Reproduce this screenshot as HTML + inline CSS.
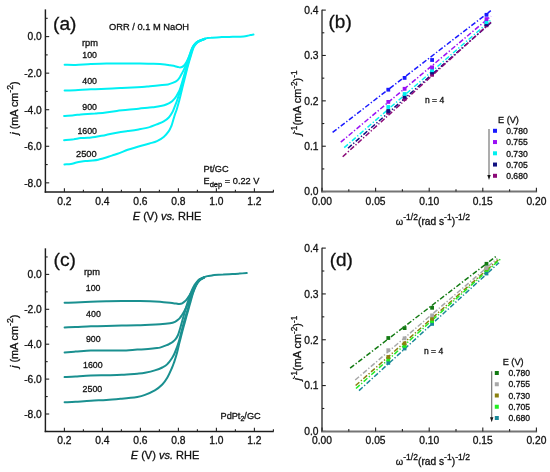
<!DOCTYPE html>
<html><head><meta charset="utf-8"><style>
html,body{margin:0;padding:0;background:#fff;}
svg{display:block;will-change:transform;}
text{font-family:"Liberation Sans",sans-serif;stroke:#111;stroke-width:0.3px;}
</style></head><body>
<svg width="550" height="472" viewBox="0 0 550 472">
<rect width="550" height="472" fill="#fff"/>
<text transform="translate(53.0,30.0) scale(1,0.93)" font-size="19.2" fill="#111">(a)</text>
<line x1="45.4" y1="9.379999999999999" x2="45.4" y2="192.67999999999998" stroke="#1e1e1e" stroke-width="1.45"/>
<line x1="45.4" y1="36.6" x2="49.199999999999996" y2="36.6" stroke="#222" stroke-width="1.1"/>
<line x1="45.4" y1="73.16" x2="49.199999999999996" y2="73.16" stroke="#222" stroke-width="1.1"/>
<line x1="45.4" y1="109.72" x2="49.199999999999996" y2="109.72" stroke="#222" stroke-width="1.1"/>
<line x1="45.4" y1="146.28" x2="49.199999999999996" y2="146.28" stroke="#222" stroke-width="1.1"/>
<line x1="45.4" y1="182.84" x2="49.199999999999996" y2="182.84" stroke="#222" stroke-width="1.1"/>
<line x1="45.4" y1="18.32" x2="47.699999999999996" y2="18.32" stroke="#222" stroke-width="1.1"/>
<line x1="45.4" y1="54.88" x2="47.699999999999996" y2="54.88" stroke="#222" stroke-width="1.1"/>
<line x1="45.4" y1="91.44" x2="47.699999999999996" y2="91.44" stroke="#222" stroke-width="1.1"/>
<line x1="45.4" y1="128.0" x2="47.699999999999996" y2="128.0" stroke="#222" stroke-width="1.1"/>
<line x1="45.4" y1="164.56" x2="47.699999999999996" y2="164.56" stroke="#222" stroke-width="1.1"/>
<text x="41.8" y="40.4" font-size="10.25" text-anchor="end" fill="#111">0.0</text>
<text x="41.8" y="76.96" font-size="10.25" text-anchor="end" fill="#111">-2.0</text>
<text x="41.8" y="113.52" font-size="10.25" text-anchor="end" fill="#111">-4.0</text>
<text x="41.8" y="150.08" font-size="10.25" text-anchor="end" fill="#111">-6.0</text>
<text x="41.8" y="186.64000000000001" font-size="10.25" text-anchor="end" fill="#111">-8.0</text>
<line x1="44.7" y1="191.98" x2="273.7" y2="191.98" stroke="#1e1e1e" stroke-width="1.45"/>
<line x1="64.4" y1="191.98" x2="64.4" y2="188.17999999999998" stroke="#222" stroke-width="1.1"/>
<line x1="102.4" y1="191.98" x2="102.4" y2="188.17999999999998" stroke="#222" stroke-width="1.1"/>
<line x1="140.4" y1="191.98" x2="140.4" y2="188.17999999999998" stroke="#222" stroke-width="1.1"/>
<line x1="178.4" y1="191.98" x2="178.4" y2="188.17999999999998" stroke="#222" stroke-width="1.1"/>
<line x1="216.4" y1="191.98" x2="216.4" y2="188.17999999999998" stroke="#222" stroke-width="1.1"/>
<line x1="254.39999999999998" y1="191.98" x2="254.39999999999998" y2="188.17999999999998" stroke="#222" stroke-width="1.1"/>
<line x1="83.4" y1="191.98" x2="83.4" y2="189.67999999999998" stroke="#222" stroke-width="1.1"/>
<line x1="121.4" y1="191.98" x2="121.4" y2="189.67999999999998" stroke="#222" stroke-width="1.1"/>
<line x1="159.4" y1="191.98" x2="159.4" y2="189.67999999999998" stroke="#222" stroke-width="1.1"/>
<line x1="197.4" y1="191.98" x2="197.4" y2="189.67999999999998" stroke="#222" stroke-width="1.1"/>
<line x1="235.4" y1="191.98" x2="235.4" y2="189.67999999999998" stroke="#222" stroke-width="1.1"/>
<line x1="273.4" y1="191.98" x2="273.4" y2="189.67999999999998" stroke="#222" stroke-width="1.1"/>
<text x="64.4" y="204.67999999999998" font-size="10.25" text-anchor="middle" fill="#111">0.2</text>
<text x="102.4" y="204.67999999999998" font-size="10.25" text-anchor="middle" fill="#111">0.4</text>
<text x="140.4" y="204.67999999999998" font-size="10.25" text-anchor="middle" fill="#111">0.6</text>
<text x="178.4" y="204.67999999999998" font-size="10.25" text-anchor="middle" fill="#111">0.8</text>
<text x="216.4" y="204.67999999999998" font-size="10.25" text-anchor="middle" fill="#111">1.0</text>
<text x="254.39999999999998" y="204.67999999999998" font-size="10.25" text-anchor="middle" fill="#111">1.2</text>
<path d="M64.6,64.7 C66.4,64.7 71.1,65.0 75.5,64.9 C79.9,64.8 85.8,64.2 90.9,64.0 C96.1,63.8 101.2,63.6 106.4,63.5 C111.6,63.4 116.2,63.4 121.8,63.4 C127.4,63.4 135.3,63.5 140.0,63.5 C144.7,63.5 146.7,63.6 150.0,63.7 C153.3,63.8 157.5,63.9 160.0,64.0 C162.5,64.1 163.3,64.2 165.0,64.4 C166.7,64.6 168.3,65.0 170.0,65.3 C171.7,65.6 173.7,65.9 175.0,66.2 C176.3,66.5 177.2,66.8 178.0,67.0 C178.8,67.2 179.3,67.4 180.0,67.4 C180.7,67.4 181.3,67.3 182.0,67.0 C182.7,66.7 183.3,66.2 184.0,65.5 C184.7,64.8 185.3,63.8 186.0,62.8 C186.7,61.8 187.2,60.7 187.9,59.2 C188.6,57.7 189.2,55.9 189.9,54.0 C190.6,52.1 191.5,49.4 192.3,47.7 C193.1,46.0 193.9,44.9 194.8,43.8 C195.8,42.7 197.0,41.9 198.0,41.3 C199.0,40.7 199.8,40.5 201.0,40.0 C202.2,39.5 203.3,39.0 205.0,38.6 C206.7,38.2 208.2,38.0 211.0,37.8 C213.8,37.5 218.2,37.3 221.8,37.1 C225.4,36.9 229.1,36.9 232.7,36.8 C236.3,36.7 241.1,36.6 243.6,36.4 C246.1,36.2 246.3,36.0 247.5,35.8 C248.7,35.6 249.5,35.2 250.5,35.0 C251.5,34.8 253.0,34.7 253.5,34.6" fill="none" stroke="#00F0F4" stroke-width="2" stroke-linejoin="round" stroke-linecap="round"/>
<path d="M64.6,90.5 C66.4,90.5 71.1,90.4 75.5,90.2 C79.9,90.0 85.8,89.5 90.9,89.3 C96.1,89.0 101.2,88.9 106.4,88.7 C111.6,88.5 116.6,88.2 121.8,87.9 C127.0,87.7 133.4,87.4 137.3,87.2 C141.2,87.0 142.9,86.9 145.0,86.7 C147.1,86.5 147.5,86.4 150.0,86.2 C152.5,86.0 157.0,85.6 160.0,85.3 C163.0,85.0 165.8,84.8 168.0,84.4 C170.2,84.0 171.7,83.4 173.3,82.7 C174.9,82.0 176.3,81.2 177.5,80.2 C178.7,79.2 179.4,77.8 180.2,76.6 C180.9,75.4 181.4,74.5 182.0,73.3 C182.6,72.1 183.3,70.8 184.0,69.3 C184.7,67.8 185.3,66.2 186.0,64.6 C186.7,62.9 187.4,61.2 188.1,59.4 C188.8,57.6 189.5,55.6 190.3,53.6 C191.1,51.6 191.9,49.1 192.7,47.5 C193.5,45.9 194.2,44.9 195.1,43.9 C196.0,42.9 197.0,42.0 198.0,41.4 C199.0,40.8 199.8,40.5 201.0,40.1 C202.2,39.7 204.3,38.9 205.0,38.7" fill="none" stroke="#00F0F4" stroke-width="2" stroke-linejoin="round" stroke-linecap="round"/>
<path d="M64.1,116.0 C65.7,115.9 71.0,115.6 73.8,115.3 C76.6,115.0 78.4,114.6 80.7,114.4 C83.0,114.2 85.2,114.1 87.6,114.0 C90.0,113.9 92.0,113.8 95.0,113.6 C98.0,113.3 102.3,113.0 105.9,112.5 C109.5,112.0 113.2,111.4 116.8,110.9 C120.4,110.5 124.1,110.2 127.7,109.8 C131.3,109.4 135.0,109.1 138.6,108.7 C142.2,108.3 146.8,107.9 149.5,107.6 C152.2,107.3 152.9,107.4 155.0,107.1 C157.1,106.8 160.1,106.2 162.0,105.8 C163.9,105.4 164.8,105.1 166.2,104.5 C167.6,103.9 169.2,103.2 170.5,102.4 C171.8,101.6 172.9,100.5 173.9,99.4 C174.9,98.4 175.7,97.1 176.4,96.1 C177.1,95.0 177.5,94.2 178.1,93.1 C178.7,92.0 179.2,91.2 179.8,89.7 C180.4,88.2 181.0,86.0 181.6,84.0 C182.2,82.0 182.8,79.8 183.5,77.5 C184.2,75.2 184.9,72.7 185.5,70.5 C186.1,68.3 186.8,66.3 187.3,64.5 C187.9,62.7 188.2,61.3 188.8,59.5 C189.4,57.7 189.9,55.8 190.6,53.8 C191.3,51.8 192.1,48.9 192.9,47.3 C193.7,45.6 194.4,44.9 195.3,43.9 C196.2,42.9 197.2,42.1 198.2,41.5 C199.2,40.9 200.1,40.7 201.2,40.2 C202.3,39.8 204.4,39.0 205.0,38.8" fill="none" stroke="#00F0F4" stroke-width="2" stroke-linejoin="round" stroke-linecap="round"/>
<path d="M64.1,140.2 C65.7,140.0 71.0,139.5 73.8,139.2 C76.6,138.8 78.4,138.3 80.7,138.1 C83.0,137.9 85.2,138.0 87.6,137.8 C90.0,137.6 92.0,137.6 95.0,137.1 C98.0,136.6 102.3,135.6 105.9,134.9 C109.5,134.2 113.2,133.3 116.8,132.7 C120.4,132.1 124.1,131.6 127.7,131.1 C131.3,130.6 135.0,130.1 138.6,129.4 C142.2,128.7 146.4,127.9 149.5,127.1 C152.6,126.2 154.6,125.2 157.0,124.3 C159.4,123.3 161.7,122.5 163.7,121.4 C165.7,120.3 167.4,119.0 168.8,117.5 C170.2,116.0 171.2,114.4 172.2,112.6 C173.2,110.8 174.0,108.3 174.7,106.6 C175.4,104.9 175.8,104.0 176.4,102.4 C177.0,100.9 177.5,99.0 178.1,97.3 C178.7,95.6 179.3,93.7 179.8,92.2 C180.3,90.7 180.5,90.3 181.1,88.4 C181.7,86.5 182.5,83.5 183.2,81.0 C183.9,78.5 184.6,76.0 185.3,73.5 C186.0,71.0 186.8,68.2 187.4,66.0 C188.0,63.8 188.5,62.0 189.1,60.0 C189.7,58.0 190.2,56.1 190.9,54.0 C191.6,51.9 192.3,49.2 193.1,47.5 C193.9,45.8 194.6,45.0 195.5,44.0 C196.4,43.0 197.4,42.2 198.4,41.6 C199.4,41.0 200.2,40.8 201.3,40.3 C202.4,39.8 204.4,39.1 205.0,38.9" fill="none" stroke="#00F0F4" stroke-width="2" stroke-linejoin="round" stroke-linecap="round"/>
<path d="M64.4,164.4 C65.5,164.3 68.9,164.4 70.9,164.1 C72.9,163.8 74.6,162.9 76.4,162.5 C78.2,162.1 80.0,161.8 81.8,161.5 C83.6,161.2 85.5,161.1 87.3,160.9 C89.1,160.7 90.9,160.7 92.7,160.5 C94.5,160.3 96.4,160.1 98.2,159.7 C100.0,159.3 101.8,158.7 103.6,158.2 C105.4,157.7 107.3,157.1 109.1,156.5 C110.9,155.9 112.7,155.4 114.5,154.8 C116.3,154.2 117.8,153.7 120.0,152.9 C122.2,152.1 124.6,150.9 127.7,149.8 C130.8,148.7 135.0,147.6 138.6,146.5 C142.2,145.4 146.4,144.4 149.5,143.5 C152.6,142.6 154.6,142.2 157.0,141.1 C159.4,140.0 161.7,138.7 163.7,137.0 C165.7,135.3 167.5,132.9 168.8,131.1 C170.1,129.3 170.7,127.7 171.4,126.0 C172.1,124.3 172.4,122.7 173.0,120.9 C173.6,119.1 174.1,117.0 174.7,115.1 C175.3,113.1 176.2,111.2 176.8,109.2 C177.4,107.2 178.0,105.1 178.5,103.3 C179.0,101.5 179.4,99.9 179.8,98.2 C180.2,96.5 180.7,94.8 181.1,93.1 C181.5,91.4 181.8,90.1 182.3,88.0 C182.8,85.9 183.5,83.1 184.2,80.5 C184.8,77.9 185.6,75.0 186.2,72.5 C186.8,70.0 187.4,67.6 188.0,65.5 C188.6,63.4 189.0,61.9 189.6,60.0 C190.2,58.1 190.8,56.1 191.4,54.0 C192.1,51.9 192.8,49.1 193.5,47.5 C194.2,45.9 195.0,45.1 195.8,44.1 C196.7,43.1 197.7,42.3 198.6,41.7 C199.5,41.1 200.3,40.9 201.4,40.4 C202.5,39.9 204.4,39.2 205.0,39.0" fill="none" stroke="#00F0F4" stroke-width="2" stroke-linejoin="round" stroke-linecap="round"/>
<text x="109" y="30" font-size="9.3" fill="#111">ORR / 0.1 M NaOH</text>
<text x="82" y="45.6" font-size="9.3" fill="#111">rpm</text>
<text x="97" y="58.4" font-size="8.8" text-anchor="end" fill="#111">100</text>
<text x="97" y="84.1" font-size="8.8" text-anchor="end" fill="#111">400</text>
<text x="97" y="110.1" font-size="8.8" text-anchor="end" fill="#111">900</text>
<text x="97" y="133.6" font-size="8.8" text-anchor="end" fill="#111">1600</text>
<text x="96.7" y="156.8" font-size="9.3" text-anchor="end" fill="#111">2500</text>
<text x="203.5" y="172.1" font-size="9.2" fill="#111">Pt/GC</text>
<text x="203.5" y="183.7" font-size="9.2" fill="#111">E<tspan font-size="7.6" dy="3">dep</tspan><tspan dy="-3"> = 0.22 V</tspan></text>
<text x="167" y="220.3" font-size="11" text-anchor="middle" fill="#111"><tspan font-style="italic">E</tspan> (V) <tspan font-style="italic">vs.</tspan> RHE</text>
<text transform="translate(18.2,108.0) rotate(-90)" font-size="10.8" text-anchor="middle" fill="#111"><tspan font-style="italic">j</tspan> (mA cm<tspan font-size="8.8" dy="-5.3">-2</tspan><tspan dy="5.3">)</tspan></text>
<line x1="45.4" y1="248.32499999999996" x2="45.4" y2="432.1499999999999" stroke="#1e1e1e" stroke-width="1.45"/>
<line x1="45.4" y1="274.4" x2="49.199999999999996" y2="274.4" stroke="#222" stroke-width="1.1"/>
<line x1="45.4" y1="309.29999999999995" x2="49.199999999999996" y2="309.29999999999995" stroke="#222" stroke-width="1.1"/>
<line x1="45.4" y1="344.2" x2="49.199999999999996" y2="344.2" stroke="#222" stroke-width="1.1"/>
<line x1="45.4" y1="379.09999999999997" x2="49.199999999999996" y2="379.09999999999997" stroke="#222" stroke-width="1.1"/>
<line x1="45.4" y1="414.0" x2="49.199999999999996" y2="414.0" stroke="#222" stroke-width="1.1"/>
<line x1="45.4" y1="256.95" x2="47.699999999999996" y2="256.95" stroke="#222" stroke-width="1.1"/>
<line x1="45.4" y1="291.84999999999997" x2="47.699999999999996" y2="291.84999999999997" stroke="#222" stroke-width="1.1"/>
<line x1="45.4" y1="326.75" x2="47.699999999999996" y2="326.75" stroke="#222" stroke-width="1.1"/>
<line x1="45.4" y1="361.65" x2="47.699999999999996" y2="361.65" stroke="#222" stroke-width="1.1"/>
<line x1="45.4" y1="396.54999999999995" x2="47.699999999999996" y2="396.54999999999995" stroke="#222" stroke-width="1.1"/>
<line x1="45.4" y1="431.44999999999993" x2="47.699999999999996" y2="431.44999999999993" stroke="#222" stroke-width="1.1"/>
<text x="41.8" y="278.2" font-size="10.25" text-anchor="end" fill="#111">0.0</text>
<text x="41.8" y="313.09999999999997" font-size="10.25" text-anchor="end" fill="#111">-2.0</text>
<text x="41.8" y="348.0" font-size="10.25" text-anchor="end" fill="#111">-4.0</text>
<text x="41.8" y="382.9" font-size="10.25" text-anchor="end" fill="#111">-6.0</text>
<text x="41.8" y="417.8" font-size="10.25" text-anchor="end" fill="#111">-8.0</text>
<line x1="44.7" y1="431.44999999999993" x2="273.7" y2="431.44999999999993" stroke="#1e1e1e" stroke-width="1.45"/>
<line x1="64.4" y1="431.44999999999993" x2="64.4" y2="427.6499999999999" stroke="#222" stroke-width="1.1"/>
<line x1="102.4" y1="431.44999999999993" x2="102.4" y2="427.6499999999999" stroke="#222" stroke-width="1.1"/>
<line x1="140.4" y1="431.44999999999993" x2="140.4" y2="427.6499999999999" stroke="#222" stroke-width="1.1"/>
<line x1="178.4" y1="431.44999999999993" x2="178.4" y2="427.6499999999999" stroke="#222" stroke-width="1.1"/>
<line x1="216.4" y1="431.44999999999993" x2="216.4" y2="427.6499999999999" stroke="#222" stroke-width="1.1"/>
<line x1="254.39999999999998" y1="431.44999999999993" x2="254.39999999999998" y2="427.6499999999999" stroke="#222" stroke-width="1.1"/>
<line x1="83.4" y1="431.44999999999993" x2="83.4" y2="429.1499999999999" stroke="#222" stroke-width="1.1"/>
<line x1="121.4" y1="431.44999999999993" x2="121.4" y2="429.1499999999999" stroke="#222" stroke-width="1.1"/>
<line x1="159.4" y1="431.44999999999993" x2="159.4" y2="429.1499999999999" stroke="#222" stroke-width="1.1"/>
<line x1="197.4" y1="431.44999999999993" x2="197.4" y2="429.1499999999999" stroke="#222" stroke-width="1.1"/>
<line x1="235.4" y1="431.44999999999993" x2="235.4" y2="429.1499999999999" stroke="#222" stroke-width="1.1"/>
<line x1="273.4" y1="431.44999999999993" x2="273.4" y2="429.1499999999999" stroke="#222" stroke-width="1.1"/>
<text x="64.4" y="444.1499999999999" font-size="10.25" text-anchor="middle" fill="#111">0.2</text>
<text x="102.4" y="444.1499999999999" font-size="10.25" text-anchor="middle" fill="#111">0.4</text>
<text x="140.4" y="444.1499999999999" font-size="10.25" text-anchor="middle" fill="#111">0.6</text>
<text x="178.4" y="444.1499999999999" font-size="10.25" text-anchor="middle" fill="#111">0.8</text>
<text x="216.4" y="444.1499999999999" font-size="10.25" text-anchor="middle" fill="#111">1.0</text>
<text x="254.39999999999998" y="444.1499999999999" font-size="10.25" text-anchor="middle" fill="#111">1.2</text>
<path d="M64.6,302.8 C66.4,302.7 71.1,302.6 75.5,302.4 C79.9,302.2 85.8,301.9 90.9,301.7 C96.1,301.5 101.2,301.4 106.4,301.3 C111.6,301.2 116.2,301.1 121.8,301.1 C127.4,301.1 135.3,301.1 140.0,301.1 C144.7,301.1 146.7,301.1 150.0,301.2 C153.3,301.3 156.7,301.5 160.0,301.8 C163.3,302.1 167.3,302.5 170.0,302.8 C172.7,303.1 174.5,303.4 176.0,303.6 C177.5,303.8 178.0,304.1 179.0,304.0 C180.0,303.9 181.2,303.8 182.2,303.3 C183.2,302.8 184.3,301.9 185.2,301.1 C186.0,300.3 186.7,299.5 187.3,298.6 C187.9,297.8 188.4,296.9 189.0,296.0 C189.6,295.1 190.1,294.3 190.7,293.4 C191.3,292.5 191.8,291.6 192.4,290.6 C193.0,289.6 193.6,288.6 194.2,287.6 C194.8,286.6 195.4,285.5 196.0,284.5 C196.6,283.5 197.3,282.4 198.0,281.5 C198.7,280.6 199.5,279.9 200.2,279.4 C200.9,278.8 201.6,278.5 202.2,278.2 C202.8,277.9 203.1,277.6 204.0,277.3 C204.9,277.0 206.1,276.4 207.4,276.1 C208.7,275.8 210.9,275.6 212.0,275.4 C213.1,275.2 212.2,275.2 214.1,275.0 C216.0,274.8 220.2,274.5 223.2,274.4 C226.2,274.2 229.6,274.2 232.3,274.1 C235.0,274.0 237.1,273.8 239.5,273.6 C241.9,273.4 245.6,273.1 246.8,273.0" fill="none" stroke="#1A9090" stroke-width="2" stroke-linejoin="round" stroke-linecap="round"/>
<path d="M64.6,327.4 C66.4,327.3 71.1,327.3 75.5,327.1 C79.9,326.9 85.8,326.5 90.9,326.3 C96.1,326.1 101.2,326.0 106.4,325.9 C111.6,325.8 116.6,325.6 121.8,325.5 C127.0,325.4 132.6,325.3 137.3,325.2 C142.0,325.1 146.2,324.9 150.0,324.8 C153.8,324.7 156.7,324.6 160.0,324.3 C163.3,324.1 167.5,323.7 170.0,323.3 C172.5,322.9 173.7,322.4 175.0,321.8 C176.3,321.2 177.2,320.5 178.0,319.8 C178.8,319.1 179.3,318.6 180.0,317.8 C180.7,317.0 181.3,316.0 182.0,315.0 C182.7,314.0 183.4,312.9 184.0,311.8 C184.6,310.7 185.2,309.5 185.8,308.3 C186.4,307.1 187.0,305.9 187.6,304.6 C188.2,303.3 188.7,301.9 189.3,300.5 C189.9,299.1 190.4,297.6 191.0,296.2 C191.6,294.8 192.2,293.2 192.8,291.8 C193.4,290.4 194.0,288.9 194.6,287.5 C195.2,286.1 195.9,284.8 196.6,283.6 C197.3,282.5 198.0,281.4 198.8,280.6 C199.6,279.8 200.3,279.3 201.2,278.8 C202.1,278.3 203.5,277.6 204.0,277.4" fill="none" stroke="#1A9090" stroke-width="2" stroke-linejoin="round" stroke-linecap="round"/>
<path d="M64.6,352.4 C66.4,352.3 71.1,351.9 75.5,351.6 C79.9,351.3 85.8,350.7 90.9,350.5 C96.1,350.3 101.2,350.4 106.4,350.4 C111.6,350.4 116.6,350.6 121.8,350.5 C127.0,350.4 133.4,349.8 137.3,349.6 C141.2,349.4 142.1,349.5 145.0,349.3 C147.9,349.1 152.3,348.5 154.8,348.2 C157.3,347.9 158.0,348.1 160.0,347.6 C162.0,347.1 165.0,345.9 166.7,345.2 C168.4,344.5 169.0,344.0 170.0,343.5 C171.0,343.0 171.7,342.7 172.6,342.0 C173.5,341.3 174.7,340.4 175.6,339.2 C176.5,338.0 177.2,336.8 178.0,335.0 C178.8,333.2 179.4,330.8 180.1,328.5 C180.8,326.2 181.5,323.6 182.2,321.0 C182.9,318.4 183.7,315.7 184.5,313.0 C185.3,310.3 186.0,307.6 186.8,305.0 C187.6,302.4 188.4,299.9 189.2,297.5 C190.0,295.1 190.9,292.6 191.8,290.5 C192.7,288.4 193.6,286.5 194.5,285.0 C195.4,283.5 196.4,282.3 197.3,281.3 C198.2,280.3 199.1,279.6 200.2,279.0 C201.3,278.4 203.4,277.8 204.0,277.5" fill="none" stroke="#1A9090" stroke-width="2" stroke-linejoin="round" stroke-linecap="round"/>
<path d="M64.6,377.1 C66.4,377.0 71.1,376.8 75.5,376.5 C79.9,376.2 85.8,375.7 90.9,375.5 C96.1,375.3 101.2,375.3 106.4,375.2 C111.6,375.1 116.6,375.1 121.8,374.8 C127.0,374.6 133.4,374.0 137.3,373.7 C141.2,373.4 142.1,373.4 145.0,372.8 C147.9,372.2 151.9,371.3 154.8,370.4 C157.7,369.5 160.2,368.6 162.3,367.5 C164.4,366.4 165.8,365.7 167.4,364.1 C169.0,362.6 170.7,360.0 171.9,358.2 C173.1,356.4 173.7,355.4 174.5,353.5 C175.3,351.6 176.2,349.1 177.0,347.0 C177.8,344.9 178.3,343.2 179.0,341.0 C179.7,338.8 180.2,336.0 180.9,333.5 C181.6,331.0 182.2,328.6 182.9,326.0 C183.6,323.4 184.3,320.7 185.1,318.0 C185.9,315.3 186.7,312.7 187.5,310.0 C188.3,307.3 189.0,304.6 189.8,302.0 C190.6,299.4 191.3,296.9 192.1,294.5 C192.9,292.1 193.8,289.7 194.7,287.6 C195.6,285.6 196.5,283.6 197.5,282.2 C198.5,280.8 199.4,280.1 200.5,279.3 C201.6,278.5 203.4,277.9 204.0,277.6" fill="none" stroke="#1A9090" stroke-width="2" stroke-linejoin="round" stroke-linecap="round"/>
<path d="M64.6,402.3 C66.4,402.2 71.1,402.1 75.5,401.8 C79.9,401.5 85.8,401.0 90.9,400.7 C96.1,400.4 101.2,400.3 106.4,400.0 C111.6,399.7 116.6,399.2 121.8,398.7 C127.0,398.2 133.4,397.5 137.3,396.9 C141.2,396.3 142.1,396.0 145.0,394.9 C147.9,393.8 151.9,392.1 154.8,390.4 C157.7,388.7 160.2,386.6 162.3,384.5 C164.4,382.4 165.8,380.2 167.4,377.5 C169.0,374.8 170.8,370.5 171.9,368.0 C173.0,365.5 173.2,364.9 174.1,362.3 C175.0,359.7 176.3,355.6 177.1,352.5 C177.9,349.4 178.5,346.6 179.1,344.0 C179.7,341.4 180.4,339.1 180.9,337.0 C181.4,334.9 181.8,333.6 182.3,331.5 C182.9,329.4 183.5,327.0 184.2,324.5 C184.9,322.0 185.7,319.2 186.4,316.5 C187.2,313.8 187.9,311.2 188.7,308.5 C189.4,305.8 190.2,303.1 190.9,300.5 C191.6,297.9 192.3,295.3 193.1,293.0 C193.9,290.7 194.8,288.5 195.6,286.7 C196.4,284.9 197.3,283.4 198.2,282.2 C199.1,281.0 200.0,280.1 201.0,279.4 C202.0,278.6 203.5,278.0 204.0,277.7" fill="none" stroke="#1A9090" stroke-width="2" stroke-linejoin="round" stroke-linecap="round"/>
<text transform="translate(53.5,266.4) scale(1,0.93)" font-size="19.2" fill="#111">(c)</text>
<text x="84" y="274.5" font-size="9.3" fill="#111">rpm</text>
<text x="100.5" y="291.3" font-size="8.8" text-anchor="end" fill="#111">100</text>
<text x="100.8" y="316.9" font-size="8.8" text-anchor="end" fill="#111">400</text>
<text x="100.6" y="342.4" font-size="8.8" text-anchor="end" fill="#111">900</text>
<text x="102.6" y="367.6" font-size="8.8" text-anchor="end" fill="#111">1600</text>
<text x="102.2" y="392.3" font-size="8.8" text-anchor="end" fill="#111">2500</text>
<text x="220.5" y="418.5" font-size="9.2" fill="#111">PdPt<tspan font-size="7" dy="2.8">2</tspan><tspan dy="-2.8">/GC</tspan></text>
<text x="165" y="459.1" font-size="11" text-anchor="middle" fill="#111"><tspan font-style="italic">E</tspan> (V) <tspan font-style="italic">vs.</tspan> RHE</text>
<text transform="translate(18.2,341.3) rotate(-90)" font-size="10.8" text-anchor="middle" fill="#111"><tspan font-style="italic">j</tspan> (mA cm<tspan font-size="8.8" dy="-5.3">-2</tspan><tspan dy="5.3">)</tspan></text>
<line x1="322" y1="9.799999999999999" x2="322" y2="192.29999999999998" stroke="#747474" stroke-width="2"/>
<line x1="322" y1="191.6" x2="325.8" y2="191.6" stroke="#222" stroke-width="1.1"/>
<line x1="322" y1="146.225" x2="325.8" y2="146.225" stroke="#222" stroke-width="1.1"/>
<line x1="322" y1="100.85" x2="325.8" y2="100.85" stroke="#222" stroke-width="1.1"/>
<line x1="322" y1="55.47500000000002" x2="325.8" y2="55.47500000000002" stroke="#222" stroke-width="1.1"/>
<line x1="322" y1="10.099999999999994" x2="325.8" y2="10.099999999999994" stroke="#222" stroke-width="1.1"/>
<line x1="322" y1="168.9125" x2="324.3" y2="168.9125" stroke="#222" stroke-width="1.1"/>
<line x1="322" y1="123.53750000000001" x2="324.3" y2="123.53750000000001" stroke="#222" stroke-width="1.1"/>
<line x1="322" y1="78.1625" x2="324.3" y2="78.1625" stroke="#222" stroke-width="1.1"/>
<line x1="322" y1="32.787499999999994" x2="324.3" y2="32.787499999999994" stroke="#222" stroke-width="1.1"/>
<text x="318.5" y="195.4" font-size="10.25" text-anchor="end" fill="#111">0.0</text>
<text x="318.5" y="150.025" font-size="10.25" text-anchor="end" fill="#111">0.1</text>
<text x="318.5" y="104.64999999999999" font-size="10.25" text-anchor="end" fill="#111">0.2</text>
<text x="318.5" y="59.27500000000002" font-size="10.25" text-anchor="end" fill="#111">0.3</text>
<text x="318.5" y="13.899999999999995" font-size="10.25" text-anchor="end" fill="#111">0.4</text>
<line x1="321" y1="191.6" x2="537.1" y2="191.6" stroke="#747474" stroke-width="2"/>
<line x1="322" y1="191.6" x2="322" y2="187.79999999999998" stroke="#222" stroke-width="1.1"/>
<line x1="375.6" y1="191.6" x2="375.6" y2="187.79999999999998" stroke="#222" stroke-width="1.1"/>
<line x1="429.2" y1="191.6" x2="429.2" y2="187.79999999999998" stroke="#222" stroke-width="1.1"/>
<line x1="482.79999999999995" y1="191.6" x2="482.79999999999995" y2="187.79999999999998" stroke="#222" stroke-width="1.1"/>
<line x1="536.4" y1="191.6" x2="536.4" y2="187.79999999999998" stroke="#222" stroke-width="1.1"/>
<line x1="348.8" y1="191.6" x2="348.8" y2="189.29999999999998" stroke="#222" stroke-width="1.1"/>
<line x1="402.4" y1="191.6" x2="402.4" y2="189.29999999999998" stroke="#222" stroke-width="1.1"/>
<line x1="456.0" y1="191.6" x2="456.0" y2="189.29999999999998" stroke="#222" stroke-width="1.1"/>
<line x1="509.6" y1="191.6" x2="509.6" y2="189.29999999999998" stroke="#222" stroke-width="1.1"/>
<text x="322" y="204.5" font-size="10.25" text-anchor="middle" fill="#111">0.00</text>
<text x="375.6" y="204.5" font-size="10.25" text-anchor="middle" fill="#111">0.05</text>
<text x="429.2" y="204.5" font-size="10.25" text-anchor="middle" fill="#111">0.10</text>
<text x="482.79999999999995" y="204.5" font-size="10.25" text-anchor="middle" fill="#111">0.15</text>
<text x="536.4" y="204.5" font-size="10.25" text-anchor="middle" fill="#111">0.20</text>
<line x1="332.6" y1="132.4" x2="490.8" y2="10.7" stroke="#1a1aff" stroke-width="1.5" stroke-dasharray="5 2 1.3 2"/>
<line x1="340.8" y1="142.1" x2="491" y2="16.2" stroke="#9a10f5" stroke-width="1.5" stroke-dasharray="5 2 1.3 2"/>
<line x1="344.2" y1="147.6" x2="491" y2="20.0" stroke="#00f0f0" stroke-width="1.5" stroke-dasharray="5 2 1.3 2"/>
<line x1="348" y1="148.2" x2="491" y2="22.6" stroke="#101080" stroke-width="1.5" stroke-dasharray="5 2 1.3 2"/>
<line x1="342.7" y1="156.7" x2="491" y2="22.2" stroke="#8c0a78" stroke-width="1.5" stroke-dasharray="5 2 1.3 2"/>
<rect x="386.40000000000003" y="110.5" width="3.8" height="3.8" fill="#8c0a78"/>
<rect x="402.70000000000005" y="97.0" width="3.8" height="3.8" fill="#8c0a78"/>
<rect x="430.20000000000005" y="72.89999999999999" width="3.8" height="3.8" fill="#8c0a78"/>
<rect x="484.6" y="23.400000000000002" width="3.8" height="3.8" fill="#8c0a78"/>
<rect x="386.40000000000003" y="109.1" width="3.8" height="3.8" fill="#101080"/>
<rect x="402.70000000000005" y="94.8" width="3.8" height="3.8" fill="#101080"/>
<rect x="430.20000000000005" y="70.6" width="3.8" height="3.8" fill="#101080"/>
<rect x="484.6" y="22.400000000000002" width="3.8" height="3.8" fill="#101080"/>
<rect x="386.40000000000003" y="105.1" width="3.8" height="3.8" fill="#00f0f0"/>
<rect x="402.70000000000005" y="92.1" width="3.8" height="3.8" fill="#00f0f0"/>
<rect x="430.20000000000005" y="68.3" width="3.8" height="3.8" fill="#00f0f0"/>
<rect x="484.6" y="20.3" width="3.8" height="3.8" fill="#00f0f0"/>
<rect x="386.40000000000003" y="100.0" width="3.8" height="3.8" fill="#9a10f5"/>
<rect x="402.70000000000005" y="86.89999999999999" width="3.8" height="3.8" fill="#9a10f5"/>
<rect x="430.20000000000005" y="65.5" width="3.8" height="3.8" fill="#9a10f5"/>
<rect x="484.6" y="17.200000000000003" width="3.8" height="3.8" fill="#9a10f5"/>
<rect x="386.40000000000003" y="87.8" width="3.8" height="3.8" fill="#1a1aff"/>
<rect x="402.70000000000005" y="76.0" width="3.8" height="3.8" fill="#1a1aff"/>
<rect x="430.20000000000005" y="58.1" width="3.8" height="3.8" fill="#1a1aff"/>
<rect x="484.6" y="12.9" width="3.8" height="3.8" fill="#1a1aff"/>
<text transform="translate(328.5,27.799999999999997) scale(1,0.93)" font-size="19.0" fill="#111">(b)</text>
<text x="498" y="122.8" font-size="9.2" fill="#111">E (V)</text>
<line x1="489" y1="129.0" x2="489" y2="176.10000000000002" stroke="#6a6a6a" stroke-width="1.1"/>
<path d="M487.3,175.10000000000002 L490.7,175.10000000000002 L489,180.10000000000002 Z" fill="#151515"/>
<rect x="493" y="128.8" width="4" height="4" fill="#1a1aff"/>
<text x="506.2" y="134.0" font-size="8.6" fill="#111">0.780</text>
<rect x="493" y="140.05" width="4" height="4" fill="#9a10f5"/>
<text x="506.2" y="145.25" font-size="8.6" fill="#111">0.755</text>
<rect x="493" y="151.3" width="4" height="4" fill="#00f0f0"/>
<text x="506.2" y="156.5" font-size="8.6" fill="#111">0.730</text>
<rect x="493" y="162.55" width="4" height="4" fill="#101080"/>
<text x="506.2" y="167.75" font-size="8.6" fill="#111">0.705</text>
<rect x="493" y="173.8" width="4" height="4" fill="#8c0a78"/>
<text x="506.2" y="179.0" font-size="8.6" fill="#111">0.680</text>
<text x="425" y="102.5" font-size="8.5" fill="#111">n = 4</text>
<text x="395.8" y="224.5" font-size="10.2" fill="#111"><tspan font-size="9.5">ω</tspan><tspan font-size="8.6" dy="-4.6">-1/2</tspan><tspan dy="4.6">(rad s</tspan><tspan font-size="8.6" dy="-4.6">-1</tspan><tspan dy="4.6">)</tspan><tspan font-size="8.6" dy="-4.6">-1/2</tspan></text>
<text transform="translate(300.8,102.9) rotate(-90)" font-size="10.9" text-anchor="middle" fill="#111"><tspan font-style="italic">j</tspan><tspan font-size="8.2" dy="-4.3">-1</tspan><tspan dy="4.3">(mA cm</tspan><tspan font-size="8.2" dy="-4.3">-2</tspan><tspan dy="4.3">)</tspan><tspan font-size="8.2" dy="-4.3">-1</tspan></text>
<line x1="322" y1="247.79999999999998" x2="322" y2="432.09999999999997" stroke="#747474" stroke-width="2"/>
<line x1="322" y1="431.4" x2="325.8" y2="431.4" stroke="#222" stroke-width="1.1"/>
<line x1="322" y1="385.575" x2="325.8" y2="385.575" stroke="#222" stroke-width="1.1"/>
<line x1="322" y1="339.75" x2="325.8" y2="339.75" stroke="#222" stroke-width="1.1"/>
<line x1="322" y1="293.925" x2="325.8" y2="293.925" stroke="#222" stroke-width="1.1"/>
<line x1="322" y1="248.1" x2="325.8" y2="248.1" stroke="#222" stroke-width="1.1"/>
<line x1="322" y1="408.48749999999995" x2="324.3" y2="408.48749999999995" stroke="#222" stroke-width="1.1"/>
<line x1="322" y1="362.6625" x2="324.3" y2="362.6625" stroke="#222" stroke-width="1.1"/>
<line x1="322" y1="316.8375" x2="324.3" y2="316.8375" stroke="#222" stroke-width="1.1"/>
<line x1="322" y1="271.01250000000005" x2="324.3" y2="271.01250000000005" stroke="#222" stroke-width="1.1"/>
<text x="318.5" y="435.2" font-size="10.25" text-anchor="end" fill="#111">0.0</text>
<text x="318.5" y="389.375" font-size="10.25" text-anchor="end" fill="#111">0.1</text>
<text x="318.5" y="343.55" font-size="10.25" text-anchor="end" fill="#111">0.2</text>
<text x="318.5" y="297.725" font-size="10.25" text-anchor="end" fill="#111">0.3</text>
<text x="318.5" y="251.9" font-size="10.25" text-anchor="end" fill="#111">0.4</text>
<line x1="321" y1="431.4" x2="537.1" y2="431.4" stroke="#747474" stroke-width="2"/>
<line x1="322" y1="431.4" x2="322" y2="427.59999999999997" stroke="#222" stroke-width="1.1"/>
<line x1="375.6" y1="431.4" x2="375.6" y2="427.59999999999997" stroke="#222" stroke-width="1.1"/>
<line x1="429.2" y1="431.4" x2="429.2" y2="427.59999999999997" stroke="#222" stroke-width="1.1"/>
<line x1="482.79999999999995" y1="431.4" x2="482.79999999999995" y2="427.59999999999997" stroke="#222" stroke-width="1.1"/>
<line x1="536.4" y1="431.4" x2="536.4" y2="427.59999999999997" stroke="#222" stroke-width="1.1"/>
<line x1="348.8" y1="431.4" x2="348.8" y2="429.09999999999997" stroke="#222" stroke-width="1.1"/>
<line x1="402.4" y1="431.4" x2="402.4" y2="429.09999999999997" stroke="#222" stroke-width="1.1"/>
<line x1="456.0" y1="431.4" x2="456.0" y2="429.09999999999997" stroke="#222" stroke-width="1.1"/>
<line x1="509.6" y1="431.4" x2="509.6" y2="429.09999999999997" stroke="#222" stroke-width="1.1"/>
<text x="322" y="444.29999999999995" font-size="10.25" text-anchor="middle" fill="#111">0.00</text>
<text x="375.6" y="444.29999999999995" font-size="10.25" text-anchor="middle" fill="#111">0.05</text>
<text x="429.2" y="444.29999999999995" font-size="10.25" text-anchor="middle" fill="#111">0.10</text>
<text x="482.79999999999995" y="444.29999999999995" font-size="10.25" text-anchor="middle" fill="#111">0.15</text>
<text x="536.4" y="444.29999999999995" font-size="10.25" text-anchor="middle" fill="#111">0.20</text>
<line x1="350.1" y1="368.1" x2="495.8" y2="256.6" stroke="#127a12" stroke-width="1.5" stroke-dasharray="5 2 1.3 2"/>
<line x1="355.2" y1="380" x2="497.4" y2="258.5" stroke="#a8a8a8" stroke-width="1.5" stroke-dasharray="5 2 1.3 2"/>
<line x1="355.6" y1="385.5" x2="498.4" y2="259.7" stroke="#8a8010" stroke-width="1.5" stroke-dasharray="5 2 1.3 2"/>
<line x1="356" y1="388.5" x2="500.5" y2="259" stroke="#22ee22" stroke-width="1.5" stroke-dasharray="5 2 1.3 2"/>
<line x1="359" y1="390.6" x2="499" y2="262.7" stroke="#1a8898" stroke-width="1.5" stroke-dasharray="5 2 1.3 2"/>
<rect x="386.40000000000003" y="361.0" width="3.8" height="3.8" fill="#1a8898"/>
<rect x="402.70000000000005" y="346.6" width="3.8" height="3.8" fill="#1a8898"/>
<rect x="430.20000000000005" y="322.0" width="3.8" height="3.8" fill="#1a8898"/>
<rect x="484.6" y="271.6" width="3.8" height="3.8" fill="#1a8898"/>
<rect x="386.40000000000003" y="357.6" width="3.8" height="3.8" fill="#22ee22"/>
<rect x="402.70000000000005" y="344.0" width="3.8" height="3.8" fill="#22ee22"/>
<rect x="430.20000000000005" y="319.1" width="3.8" height="3.8" fill="#22ee22"/>
<rect x="484.6" y="268.1" width="3.8" height="3.8" fill="#22ee22"/>
<rect x="386.40000000000003" y="355.1" width="3.8" height="3.8" fill="#8a8010"/>
<rect x="402.70000000000005" y="341.5" width="3.8" height="3.8" fill="#8a8010"/>
<rect x="430.20000000000005" y="316.90000000000003" width="3.8" height="3.8" fill="#8a8010"/>
<rect x="484.6" y="266.6" width="3.8" height="3.8" fill="#8a8010"/>
<rect x="386.40000000000003" y="348.3" width="3.8" height="3.8" fill="#a8a8a8"/>
<rect x="402.70000000000005" y="336.40000000000003" width="3.8" height="3.8" fill="#a8a8a8"/>
<rect x="430.20000000000005" y="313.5" width="3.8" height="3.8" fill="#a8a8a8"/>
<rect x="484.6" y="266.1" width="3.8" height="3.8" fill="#a8a8a8"/>
<rect x="386.40000000000003" y="336.1" width="3.8" height="3.8" fill="#127a12"/>
<rect x="402.70000000000005" y="326.20000000000005" width="3.8" height="3.8" fill="#127a12"/>
<rect x="430.20000000000005" y="305.90000000000003" width="3.8" height="3.8" fill="#127a12"/>
<rect x="484.6" y="261.90000000000003" width="3.8" height="3.8" fill="#127a12"/>
<text transform="translate(329.7,265.5) scale(1,0.93)" font-size="19.0" fill="#111">(d)</text>
<text x="502.7" y="365" font-size="9.2" fill="#111">E (V)</text>
<line x1="491.7" y1="371.2" x2="491.7" y2="418.3" stroke="#6a6a6a" stroke-width="1.1"/>
<path d="M490.0,417.3 L493.4,417.3 L491.7,422.3 Z" fill="#151515"/>
<rect x="494.8" y="371.0" width="4" height="4" fill="#127a12"/>
<text x="508.6" y="376.2" font-size="8.6" fill="#111">0.780</text>
<rect x="494.8" y="382.25" width="4" height="4" fill="#a8a8a8"/>
<text x="508.6" y="387.45" font-size="8.6" fill="#111">0.755</text>
<rect x="494.8" y="393.5" width="4" height="4" fill="#8a8010"/>
<text x="508.6" y="398.7" font-size="8.6" fill="#111">0.730</text>
<rect x="494.8" y="404.75" width="4" height="4" fill="#22ee22"/>
<text x="508.6" y="409.95" font-size="8.6" fill="#111">0.705</text>
<rect x="494.8" y="416.0" width="4" height="4" fill="#1a8898"/>
<text x="508.6" y="421.2" font-size="8.6" fill="#111">0.680</text>
<text x="424" y="353.5" font-size="8.5" fill="#111">n = 4</text>
<text x="395.8" y="464.5" font-size="10.2" fill="#111"><tspan font-size="9.5">ω</tspan><tspan font-size="8.6" dy="-4.6">-1/2</tspan><tspan dy="4.6">(rad s</tspan><tspan font-size="8.6" dy="-4.6">-1</tspan><tspan dy="4.6">)</tspan><tspan font-size="8.6" dy="-4.6">-1/2</tspan></text>
<text transform="translate(300.8,348.2) rotate(-90)" font-size="10.9" text-anchor="middle" fill="#111"><tspan font-style="italic">j</tspan><tspan font-size="8.2" dy="-4.3">-1</tspan><tspan dy="4.3">(mA cm</tspan><tspan font-size="8.2" dy="-4.3">-2</tspan><tspan dy="4.3">)</tspan><tspan font-size="8.2" dy="-4.3">-1</tspan></text>
</svg>
</body></html>
